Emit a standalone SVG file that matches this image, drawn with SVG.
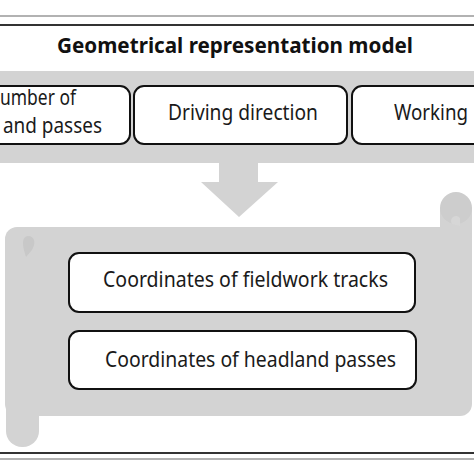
<svg xmlns="http://www.w3.org/2000/svg" width="474" height="474" viewBox="0 0 474 474">
<style>
.box{fill:#fff;stroke:#111;stroke-width:2}
.t{font-family:"Noto Sans","Liberation Sans",sans-serif;font-size:21px;fill:#1a1a1a}
.title{font-family:"Noto Sans","Liberation Sans",sans-serif;font-size:22px;font-weight:bold;fill:#111}
.g{fill:#d3d3d3}
</style>
<rect width="474" height="474" fill="#fff"/>
<line x1="0" y1="16" x2="474" y2="16" stroke="#666" stroke-width="1.2"/>
<line x1="0" y1="25" x2="474" y2="25" stroke="#333" stroke-width="2"/>
<line x1="0" y1="453" x2="474" y2="453" stroke="#333" stroke-width="2"/>
<line x1="0" y1="459" x2="474" y2="459" stroke="#666" stroke-width="1.2"/>
<g id="title"><text class="title" x="235" y="53" text-anchor="middle" textLength="356" lengthAdjust="spacingAndGlyphs">Geometrical representation model</text></g>
<rect class="g" x="0" y="71" width="474" height="92"/>
<g id="n1"><rect class="box" x="-20" y="86" width="150" height="58" rx="10"/>
<text class="t" x="0" y="105" textLength="76" lengthAdjust="spacingAndGlyphs">umber of</text>
<text class="t" x="3" y="133" textLength="99" lengthAdjust="spacingAndGlyphs">and passes</text></g>
<g id="n2"><rect class="box" x="134" y="86" width="213" height="58" rx="10"/>
<text class="t" x="168" y="120" textLength="150" lengthAdjust="spacingAndGlyphs">Driving direction</text></g>
<g id="n3"><rect class="box" x="352" y="86" width="140" height="58" rx="10"/>
<text class="t" x="394" y="120" textLength="74" lengthAdjust="spacingAndGlyphs">Working</text></g>
<g id="connectors"><polygon class="g" points="219,163 258,163 258,182 278,182 239,217 201,182 219,182"/></g>
<g id="scroll">
<rect class="g" x="440" y="208" width="32" height="30"/>
<circle cx="456" cy="208" r="16" fill="#cdcdcd"/>
<path d="M452,224 a5,5 0 0 1 8,-6 l0,8 z" fill="#d6d6d6"/>
<rect class="g" x="5" y="227" width="467" height="189" rx="12"/>
<rect class="g" x="6" y="395" width="33" height="52" rx="16"/>
<rect class="g" x="6" y="395" width="33" height="30"/>
<path d="M28,236 c6,0 8,6 5,12 c-2,4 -5,6 -7,9 c-2,-6 -3,-10 -3,-14 c0,-4 2,-7 5,-7 z" fill="#c8c8c8"/>
</g>
<g id="n4"><rect class="box" x="69" y="253" width="346" height="59" rx="10"/>
<text class="t" x="103" y="287" textLength="285" lengthAdjust="spacingAndGlyphs">Coordinates of fieldwork tracks</text></g>
<g id="n5"><rect class="box" x="69" y="331" width="347" height="58" rx="10"/>
<text class="t" x="105" y="367" textLength="291" lengthAdjust="spacingAndGlyphs">Coordinates of headland passes</text></g>
</svg>
